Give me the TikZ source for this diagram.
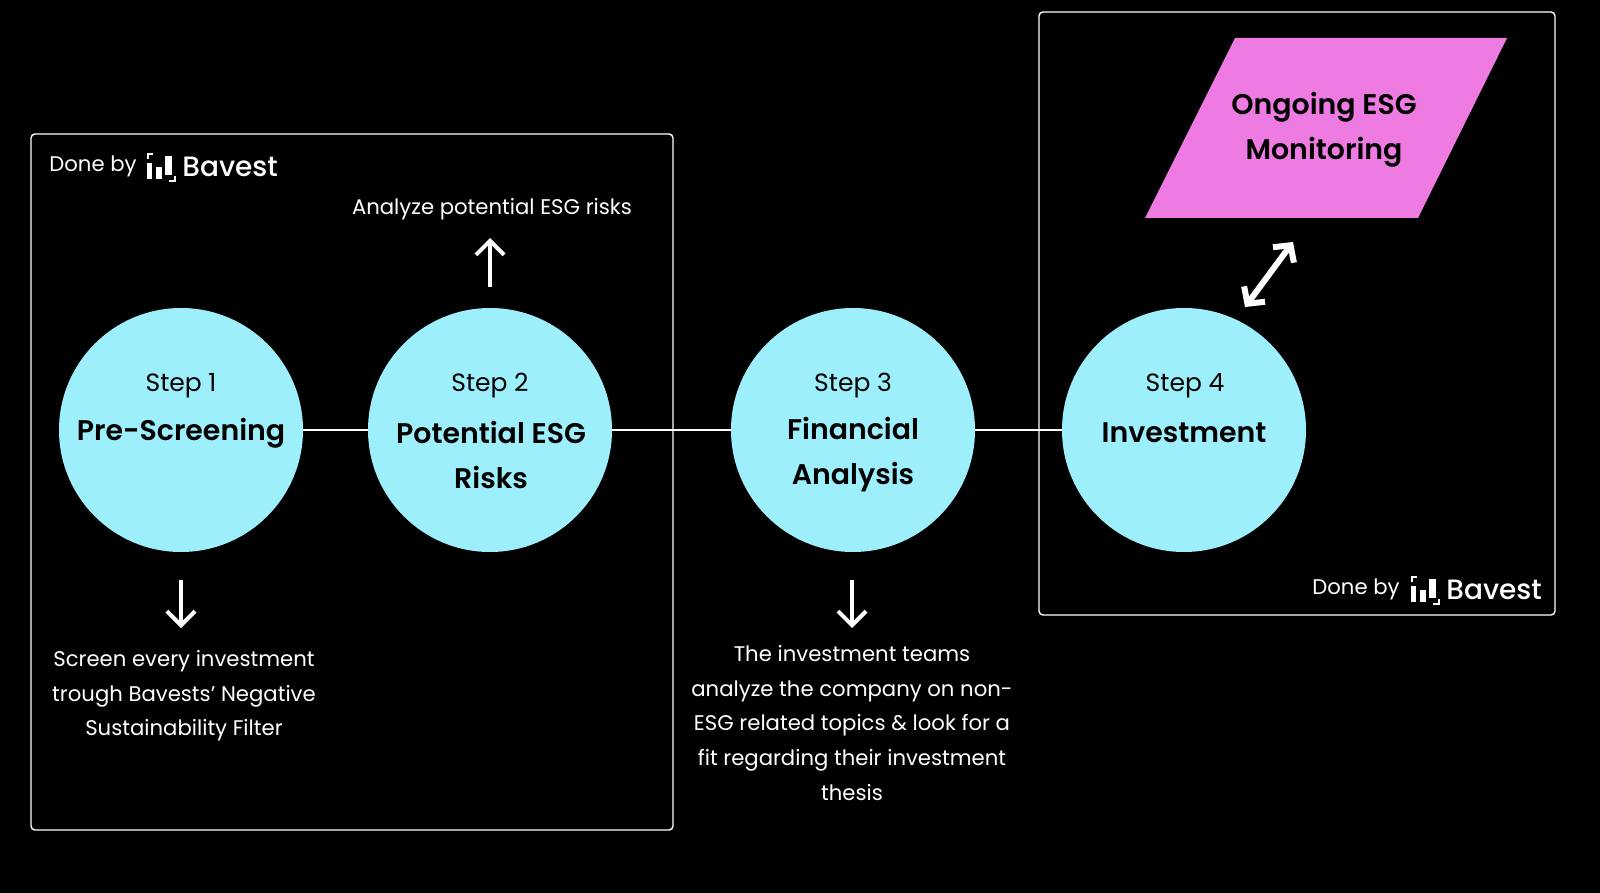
\documentclass[tikz,border=0pt]{standalone}
\usepackage{fontspec}
\setmainfont{Poppins}
\newfontfamily\pmed{Poppins Medium}
\newfontfamily\psemi{Poppins SemiBold}
\usetikzlibrary{arrows.meta}
\begin{document}
\begin{tikzpicture}[x=0.5pt,y=-0.5pt,
  circ/.style={circle,fill=stepcyan,minimum size=122pt,inner sep=0pt,align=center,text=black},
  frame/.style={draw=white,line width=0.7pt,rounded corners=2pt},
  conn/.style={draw=white,line width=0.8pt},
  arr/.style={draw=white,line width=2pt,-{Straight Barb[length=7pt,width=14pt]}},
  note/.style={text=white,font=\fontsize{10.6}{17.3}\selectfont,align=center},
  steplbl/.style={font=\fontsize{12.5}{15}\selectfont},
  ttl/.style={font=\psemi\fontsize{14.2}{22.5}\selectfont}]
\definecolor{stepcyan}{HTML}{9CEFFB}
\definecolor{mon}{HTML}{EE7BE1}
\fill[black] (0,0) rectangle (1600,893);
\useasboundingbox (0,0) rectangle (1600,893);
\draw[frame] (31,134) rectangle (673,830);
\draw[frame] (1039,12) rectangle (1555,615);
\node[circ] (s1) at (181,430) {};
\node[circ] (s2) at (490,430) {};
\node[circ] (s3) at (853,430) {};
\node[circ] (s4) at (1184,430) {};
\draw[conn] (s1) -- (s2); \draw[conn] (s2) -- (s3); \draw[conn] (s3) -- (s4);
\node[steplbl] at (181,386) {Step 1};
\node[ttl] at (181,433) {Pre-Screening};
\node[steplbl] at (490,386) {Step 2};
\node[ttl,align=center] at (491,455) {Potential ESG\\Risks};
\node[steplbl] at (853,386) {Step 3};
\node[ttl,align=center] at (853,455) {Financial\\Analysis};
\node[steplbl] at (1185,386) {Step 4};
\node[ttl] at (1184,433) {Investment};
\fill[mon] (1235,38) -- (1507,38) -- (1418,218) -- (1145,218) -- cycle;
\node[ttl,align=center] (monl) at (1324,130) {Ongoing ESG\\Monitoring};
\coordinate (a1) at (490,287); \coordinate (a1e) at (490,238);
\draw[arr] (a1) -- (a1e);
\coordinate (d1) at (181,580); \coordinate (d1e) at (181,628);
\draw[arr] (d1) -- (d1e);
\coordinate (d3) at (852,580); \coordinate (d3e) at (852,628);
\draw[arr] (d3) -- (d3e);
\coordinate (b1) at (1245,307); \coordinate (b2) at (1293,242);
\draw[draw=white,line width=3pt,{Straight Barb[length=6pt,width=13pt]}-{Straight Barb[length=6pt,width=13pt]}] (b1) -- (b2);
\node[note] (t2) at (492,209) {Analyze potential ESG risks};
\node[note] (t1) at (184,696) {Screen every investment\\trough Bavests' Negative\\Sustainability Filter};
\node[note] (t3) at (852,723) {The investment teams\\analyze the company on non-\\ESG related topics \& look for a\\fit regarding their investment\\thesis};
\newcommand{\bavlogo}[2]{%
 \begin{scope}[shift={(#1,#2)}]
  \fill[white] (0,10) rectangle (5,26);
  \fill[white] (9,14) rectangle (15,26);
  \fill[white] (18,3) rectangle (25,22);
  \draw[white,line width=0.8pt] (1,6) -- (1,1) -- (6,1);
  \draw[white,line width=0.8pt] (22,28) -- (28,28) -- (28,23);
 \end{scope}}
\node[note,anchor=west,inner sep=0pt] (db1) at (49,166) {Done by};
\bavlogo{147}{153}
\node[text=white,anchor=west,inner sep=0pt,font=\pmed\fontsize{14}{16}\selectfont] (bv1) at (182,167) {Bavest};
\node[note,anchor=west,inner sep=0pt] (db2) at (1312,589) {Done by};
\bavlogo{1411}{576}
\node[text=white,anchor=west,inner sep=0pt,font=\pmed\fontsize{14}{16}\selectfont] (bv2) at (1446,590) {Bavest};
\end{tikzpicture}
\end{document}
